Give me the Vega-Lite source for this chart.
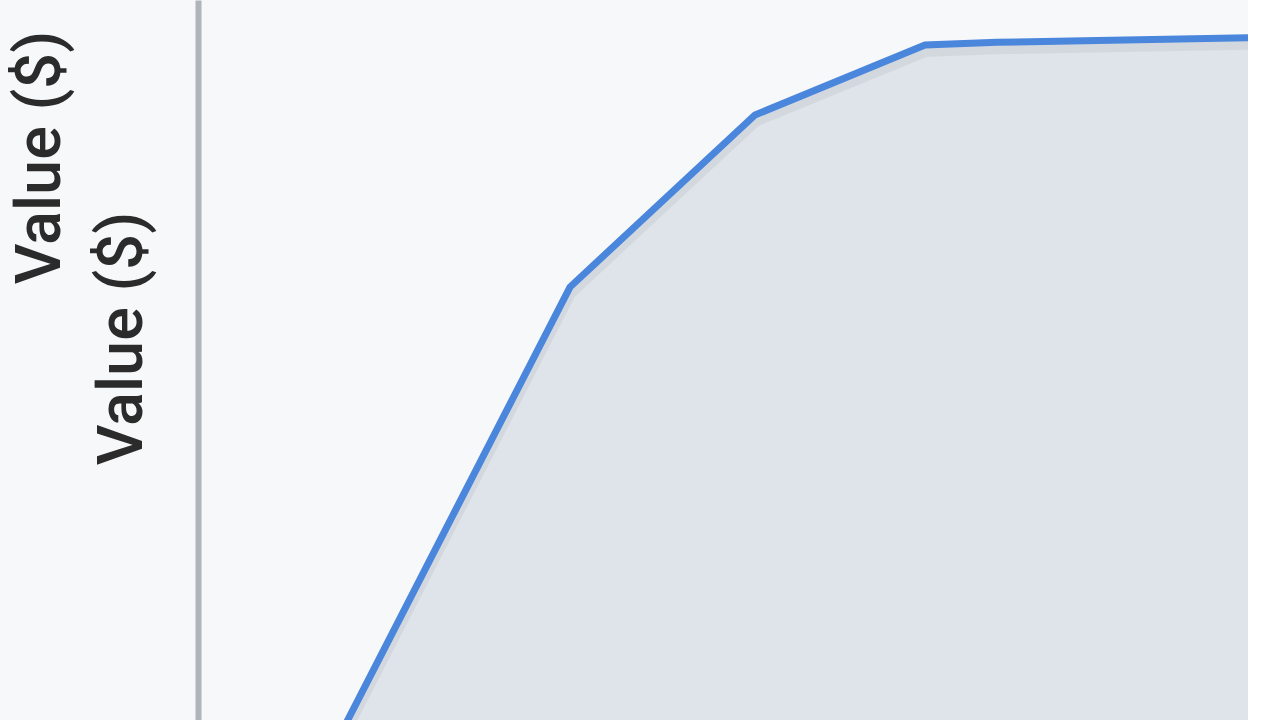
{
  "$schema": "https://vega.github.io/schema/vega-lite/v6.json",
  "width": 1050,
  "height": 920,
  "autosize": "none",
  "padding": {"left": 198, "top": 0, "right": 0, "bottom": 0},
  "background": "#f7f8fa",
  "data": {
    "values": [
      {"t": 0.47, "value": 0},
      {"t": 1.94, "value": 311},
      {"t": 3.72, "value": 688},
      {"t": 5.57, "value": 875},
      {"t": 7.27, "value": 951},
      {"t": 7.99, "value": 954},
      {"t": 10.5, "value": 959}
    ]
  },
  "encoding": {
    "x": {
      "field": "t",
      "type": "quantitative",
      "scale": {"domain": [0, 10.5], "nice": false, "zero": false},
      "axis": null
    }
  },
  "layer": [
    {
      "mark": {"type": "area", "color": "#dfe4eb", "opacity": 1},
      "encoding": {
        "y": {
          "field": "value",
          "type": "quantitative",
          "scale": {"domain": [0, 1000], "nice": false},
          "axis": {
            "orient": "left",
            "title": "Value ($)",
            "titleFont": "Roboto",
            "titleFontWeight": 500,
            "titleFontSize": 63,
            "titleColor": "#2b2b2b",
            "titleBaseline": "middle",
            "titleX": -158,
            "titleY": 157,
            "labels": false,
            "ticks": false,
            "grid": false,
            "domain": true,
            "domainColor": "#aeb4ba",
            "domainWidth": 6
          }
        }
      }
    },
    {
      "mark": {"type": "line", "color": "#000000", "opacity": 0.05, "strokeWidth": 12, "yOffset": 6},
      "encoding": {
        "y": {
          "field": "value",
          "type": "quantitative",
          "scale": {"domain": [0, 1000], "nice": false},
          "axis": null
        }
      }
    },
    {
      "mark": {"type": "line", "color": "#4a86dc", "strokeWidth": 7},
      "encoding": {
        "y": {
          "field": "value",
          "type": "quantitative",
          "scale": {"domain": [0, 1000], "nice": false},
          "axis": {
            "orient": "left",
            "title": "Value ($)",
            "titleFont": "Roboto",
            "titleFontWeight": 500,
            "titleFontSize": 63,
            "titleColor": "#2b2b2b",
            "titleBaseline": "middle",
            "titleX": -76,
            "titleY": 338,
            "labels": false,
            "ticks": false,
            "grid": false,
            "domain": false
          }
        }
      }
    }
  ],
  "resolve": {"scale": {"y": "independent"}, "axis": {"y": "independent"}},
  "config": {"view": {"stroke": null}}
}
